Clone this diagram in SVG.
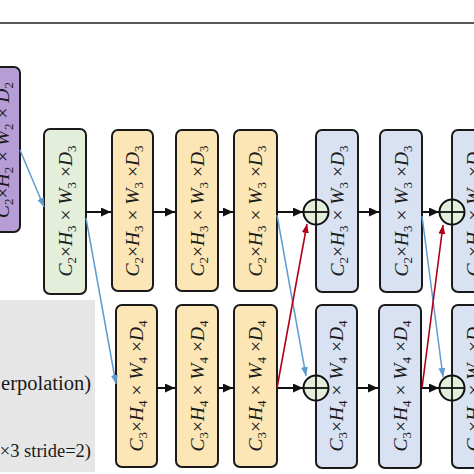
<svg xmlns="http://www.w3.org/2000/svg" width="474" height="474" viewBox="0 0 474 474">
<defs>
<style>
.box{stroke:#1a1a1a;stroke-width:2}
.pu{fill:#b79dd6}
.gr{fill:#e3efda}
.ye{fill:#fce6b5}
.bl{fill:#d9e2f2}
.lbl{font-family:"Liberation Serif","Times New Roman",serif;font-size:19.5px;font-style:italic;fill:#1a1a1a}
.s{font-size:13px;font-style:normal}
.n{font-style:normal}
.leg{font-family:"Liberation Serif","Times New Roman",serif;fill:#1a1a1a}
.k{stroke:#111;stroke-width:2;fill:none}
.b{stroke:#5f9bd0;stroke-width:1.5;fill:none}
.r{stroke:#b00018;stroke-width:1.6;fill:none}
.add circle{fill:#e3efda;stroke:#111;stroke-width:2}
.add line{stroke:#111;stroke-width:1.8}
</style>
<marker id="ak" markerUnits="userSpaceOnUse" markerWidth="11" markerHeight="10" refX="10" refY="4.5" orient="auto"><path d="M0,0 L10,4.5 L0,9 Z" fill="#111"/></marker>
<marker id="ab" markerUnits="userSpaceOnUse" markerWidth="10" markerHeight="10" refX="9" refY="3.5" orient="auto"><path d="M0,0 L9,3.5 L0,7 Z" fill="#5f9bd0"/></marker>
<marker id="ar" markerUnits="userSpaceOnUse" markerWidth="10" markerHeight="10" refX="9" refY="3.5" orient="auto"><path d="M0,0 L9,3.5 L0,7 Z" fill="#b00018"/></marker>
</defs>
<rect x="0" y="0" width="474" height="474" fill="#ffffff"/>
<line x1="0" y1="23" x2="474" y2="23" stroke="#222" stroke-width="1.5"/>

<g id="legend">
<rect x="0" y="300" width="95" height="172" fill="#e6e6e6"/>
<text class="leg" x="91" y="390" text-anchor="end" font-size="20.5">erpolation)</text>
<text class="leg" x="91" y="457" text-anchor="end" font-size="18.5">×3 stride=2)</text>
</g>

<g id="n_purple">
<rect class="box pu" x="-22" y="67" width="42" height="165" rx="6"/>
<text class="lbl" transform="translate(9,150) rotate(-90)" text-anchor="middle">C<tspan class="s" dy="4">2</tspan><tspan class="n" dy="-4">×</tspan>H<tspan class="s" dy="4">2</tspan><tspan class="n" dy="-4"> × </tspan>W<tspan class="s" dy="4">2</tspan><tspan class="n" dy="-4"> × </tspan>D<tspan class="s" dy="4">2</tspan></text>
</g>

<g id="n_green">
<rect class="box gr" x="44" y="129" width="42" height="165" rx="6"/>
<text class="lbl" transform="translate(71.5,211) rotate(-90)" text-anchor="middle">C<tspan class="s" dy="4">2</tspan><tspan class="n" dy="-4">×</tspan>H<tspan class="s" dy="4">3</tspan><tspan class="n" dy="-4"> × </tspan>W<tspan class="s" dy="4">3</tspan><tspan class="n" dy="-4"> ×</tspan>D<tspan class="s" dy="4">3</tspan></text>
</g>

<g id="n_y1">
<rect class="box ye" x="112" y="130" width="41" height="161" rx="6"/>
<text class="lbl" transform="translate(139,211) rotate(-90)" text-anchor="middle">C<tspan class="s" dy="4">2</tspan><tspan class="n" dy="-4">×</tspan>H<tspan class="s" dy="4">3</tspan><tspan class="n" dy="-4"> × </tspan>W<tspan class="s" dy="4">3</tspan><tspan class="n" dy="-4"> ×</tspan>D<tspan class="s" dy="4">3</tspan></text>
</g>
<g id="n_y2">
<rect class="box ye" x="176" y="130" width="42" height="161" rx="6"/>
<text class="lbl" transform="translate(203.5,211) rotate(-90)" text-anchor="middle">C<tspan class="s" dy="4">2</tspan><tspan class="n" dy="-4">×</tspan>H<tspan class="s" dy="4">3</tspan><tspan class="n" dy="-4"> × </tspan>W<tspan class="s" dy="4">3</tspan><tspan class="n" dy="-4"> ×</tspan>D<tspan class="s" dy="4">3</tspan></text>
</g>
<g id="n_y3">
<rect class="box ye" x="234" y="130" width="43" height="161" rx="6"/>
<text class="lbl" transform="translate(262,211) rotate(-90)" text-anchor="middle">C<tspan class="s" dy="4">2</tspan><tspan class="n" dy="-4">×</tspan>H<tspan class="s" dy="4">3</tspan><tspan class="n" dy="-4"> × </tspan>W<tspan class="s" dy="4">3</tspan><tspan class="n" dy="-4"> ×</tspan>D<tspan class="s" dy="4">3</tspan></text>
</g>

<g id="n_y4">
<rect class="box ye" x="116" y="305" width="41" height="162" rx="6"/>
<text class="lbl" transform="translate(143,386) rotate(-90)" text-anchor="middle">C<tspan class="s" dy="4">3</tspan><tspan class="n" dy="-4">×</tspan>H<tspan class="s" dy="4">4</tspan><tspan class="n" dy="-4"> × </tspan>W<tspan class="s" dy="4">4</tspan><tspan class="n" dy="-4"> ×</tspan>D<tspan class="s" dy="4">4</tspan></text>
</g>
<g id="n_y5">
<rect class="box ye" x="176" y="305" width="42" height="162" rx="6"/>
<text class="lbl" transform="translate(203.5,386) rotate(-90)" text-anchor="middle">C<tspan class="s" dy="4">3</tspan><tspan class="n" dy="-4">×</tspan>H<tspan class="s" dy="4">4</tspan><tspan class="n" dy="-4"> × </tspan>W<tspan class="s" dy="4">4</tspan><tspan class="n" dy="-4"> ×</tspan>D<tspan class="s" dy="4">4</tspan></text>
</g>
<g id="n_y6">
<rect class="box ye" x="234" y="305" width="43" height="162" rx="6"/>
<text class="lbl" transform="translate(262,386) rotate(-90)" text-anchor="middle">C<tspan class="s" dy="4">3</tspan><tspan class="n" dy="-4">×</tspan>H<tspan class="s" dy="4">4</tspan><tspan class="n" dy="-4"> × </tspan>W<tspan class="s" dy="4">4</tspan><tspan class="n" dy="-4"> ×</tspan>D<tspan class="s" dy="4">4</tspan></text>
</g>

<g id="n_b1">
<rect class="box bl" x="316" y="130" width="42" height="162" rx="6"/>
<text class="lbl" transform="translate(343.5,211) rotate(-90)" text-anchor="middle">C<tspan class="s" dy="4">2</tspan><tspan class="n" dy="-4">×</tspan>H<tspan class="s" dy="4">3</tspan><tspan class="n" dy="-4"> × </tspan>W<tspan class="s" dy="4">3</tspan><tspan class="n" dy="-4"> ×</tspan>D<tspan class="s" dy="4">3</tspan></text>
</g>
<g id="n_b2">
<rect class="box bl" x="380" y="130" width="42" height="162" rx="6"/>
<text class="lbl" transform="translate(407.5,211) rotate(-90)" text-anchor="middle">C<tspan class="s" dy="4">2</tspan><tspan class="n" dy="-4">×</tspan>H<tspan class="s" dy="4">3</tspan><tspan class="n" dy="-4"> × </tspan>W<tspan class="s" dy="4">3</tspan><tspan class="n" dy="-4"> ×</tspan>D<tspan class="s" dy="4">3</tspan></text>
</g>
<g id="n_b3">
<rect class="box bl" x="452" y="130" width="42" height="162" rx="6"/>
<text class="lbl" transform="translate(479.5,211) rotate(-90)" text-anchor="middle">C<tspan class="s" dy="4">2</tspan><tspan class="n" dy="-4">×</tspan>H<tspan class="s" dy="4">3</tspan><tspan class="n" dy="-4"> × </tspan>W<tspan class="s" dy="4">3</tspan><tspan class="n" dy="-4"> ×</tspan>D<tspan class="s" dy="4">3</tspan></text>
</g>

<g id="n_b4">
<rect class="box bl" x="316" y="305" width="41" height="163" rx="6"/>
<text class="lbl" transform="translate(343,386) rotate(-90)" text-anchor="middle">C<tspan class="s" dy="4">3</tspan><tspan class="n" dy="-4">×</tspan>H<tspan class="s" dy="4">4</tspan><tspan class="n" dy="-4"> × </tspan>W<tspan class="s" dy="4">4</tspan><tspan class="n" dy="-4"> ×</tspan>D<tspan class="s" dy="4">4</tspan></text>
</g>
<g id="n_b5">
<rect class="box bl" x="379" y="305" width="42" height="163" rx="6"/>
<text class="lbl" transform="translate(406.5,386) rotate(-90)" text-anchor="middle">C<tspan class="s" dy="4">3</tspan><tspan class="n" dy="-4">×</tspan>H<tspan class="s" dy="4">4</tspan><tspan class="n" dy="-4"> × </tspan>W<tspan class="s" dy="4">4</tspan><tspan class="n" dy="-4"> ×</tspan>D<tspan class="s" dy="4">4</tspan></text>
</g>
<g id="n_b6">
<rect class="box bl" x="452" y="305" width="42" height="163" rx="6"/>
<text class="lbl" transform="translate(479.5,386) rotate(-90)" text-anchor="middle">C<tspan class="s" dy="4">3</tspan><tspan class="n" dy="-4">×</tspan>H<tspan class="s" dy="4">4</tspan><tspan class="n" dy="-4"> × </tspan>W<tspan class="s" dy="4">4</tspan><tspan class="n" dy="-4"> ×</tspan>D<tspan class="s" dy="4">4</tspan></text>
</g>

<g id="connectors">
<line class="k" x1="86" y1="212" x2="111" y2="212" marker-end="url(#ak)"/>
<line class="k" x1="153" y1="212" x2="175" y2="212" marker-end="url(#ak)"/>
<line class="k" x1="218" y1="212" x2="233" y2="212" marker-end="url(#ak)"/>
<line class="k" x1="277" y1="212" x2="303" y2="212" marker-end="url(#ak)"/>
<line class="k" x1="358" y1="212" x2="379" y2="212" marker-end="url(#ak)"/>
<line class="k" x1="422" y1="212" x2="439" y2="212" marker-end="url(#ak)"/>
<line class="k" x1="157" y1="388" x2="175" y2="388" marker-end="url(#ak)"/>
<line class="k" x1="218" y1="388" x2="233" y2="388" marker-end="url(#ak)"/>
<line class="k" x1="277" y1="388" x2="303" y2="388" marker-end="url(#ak)"/>
<line class="k" x1="357" y1="388" x2="378" y2="388" marker-end="url(#ak)"/>
<line class="k" x1="421" y1="388" x2="439" y2="388" marker-end="url(#ak)"/>
<line class="b" x1="20" y1="150" x2="44" y2="207" marker-end="url(#ab)"/>
<line class="b" x1="86" y1="218" x2="116" y2="384" marker-end="url(#ab)"/>
<line class="b" x1="277" y1="215" x2="306" y2="376" marker-end="url(#ab)"/>
<line class="b" x1="422" y1="216" x2="443" y2="377" marker-end="url(#ab)"/>
<line class="r" x1="277" y1="388" x2="307" y2="224" marker-end="url(#ar)"/>
<line class="r" x1="422" y1="388" x2="443" y2="225" marker-end="url(#ar)"/>
</g>

<g id="add1" class="add"><circle cx="316" cy="212" r="12.5"/><line x1="303.5" y1="212" x2="328.5" y2="212"/><line x1="316" y1="199.5" x2="316" y2="224.5"/></g>
<g id="add2" class="add"><circle cx="452" cy="212" r="12.5"/><line x1="439.5" y1="212" x2="464.5" y2="212"/><line x1="452" y1="199.5" x2="452" y2="224.5"/></g>
<g id="add3" class="add"><circle cx="316" cy="388" r="12.5"/><line x1="303.5" y1="388" x2="328.5" y2="388"/><line x1="316" y1="375.5" x2="316" y2="400.5"/></g>
<g id="add4" class="add"><circle cx="452" cy="388" r="12.5"/><line x1="439.5" y1="388" x2="464.5" y2="388"/><line x1="452" y1="375.5" x2="452" y2="400.5"/></g>
</svg>
